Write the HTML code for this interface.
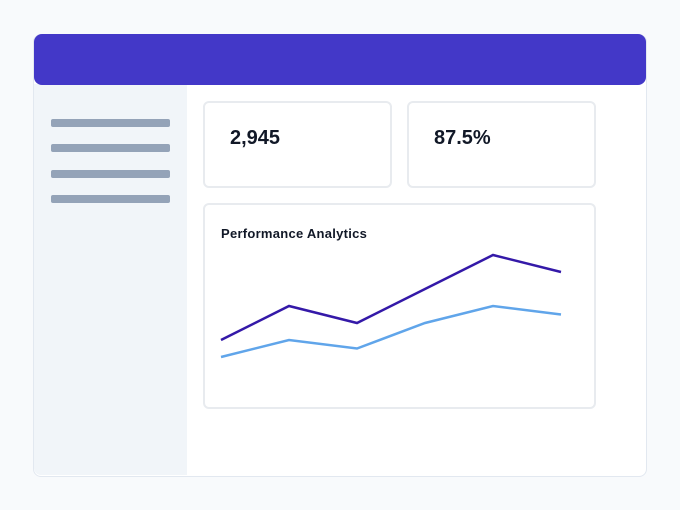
<!DOCTYPE html>
<html lang="en">
<head>
<meta charset="utf-8">
<title>Performance Analytics Dashboard</title>
<style>
  html, body { margin: 0; padding: 0; }
  body { width: 680px; height: 510px; background: #f8fafc; position: relative; overflow: hidden; font-family: "Liberation Sans", sans-serif; }
  div { box-sizing: border-box; position: absolute; }
  #app { left: 33px; top: 34px; width: 614px; height: 443px; background: #fff; border: 1px solid #e2e8f0; border-radius: 8px; }
  #sidebar { left: 34px; top: 84px; width: 153px; height: 391px; background: #f1f5f9; border-bottom-left-radius: 7px; }
  #header { left: 34px; top: 34px; width: 612px; height: 51px; background: #4338c8; border-radius: 8px; }
  .nav { left: 51px; width: 119px; height: 8px; background: #94a3b8; border-radius: 2px; }
  .card { background: #fff; border: 2px solid #e8ebef; border-radius: 6px; }
  .stat { position: absolute; font-weight: 700; font-size: 20px; line-height: 23px; color: #111827; white-space: nowrap; }
  #chart-title { position: absolute; left: 221px; top: 226px; font-weight: 700; font-size: 13px; line-height: 15px; letter-spacing: 0.27px; color: #111827; white-space: nowrap; }
  #chart { position: absolute; left: 0; top: 0; }
</style>
</head>
<body>
  <div id="app"></div>
  <div id="sidebar"></div>
  <div id="header"></div>

  <div class="nav" style="top:119px"></div>
  <div class="nav" style="top:144px"></div>
  <div class="nav" style="top:170px"></div>
  <div class="nav" style="top:195px"></div>

  <div class="card" style="left:203px;top:101px;width:189px;height:87px"></div>
  <div class="card" style="left:407px;top:101px;width:189px;height:87px"></div>
  <div class="card" style="left:203px;top:203px;width:393px;height:206px"></div>

  <span class="stat" style="left:230px;top:127px">2,945</span>
  <span class="stat" style="left:434px;top:127px">87.5%</span>
  <span id="chart-title">Performance Analytics</span>

  <svg id="chart" width="680" height="510" viewBox="0 0 680 510"></svg>

<script>
const categories = [0, 1, 2, 3, 4, 5];
const primarySeries = [30, 50, 40, 60, 80, 70];
const secondarySeries = [20, 30, 25, 40, 50, 45];

const svgNS = 'http://www.w3.org/2000/svg';
const chart = document.getElementById('chart');

function xScale(i) {
  return 221 + i * 68;
}
function yScale(v) {
  return 391 - v * 1.7;
}
function drawSeries(values, color) {
  const line = document.createElementNS(svgNS, 'polyline');
  const pts = values.map(function (v, i) {
    return xScale(categories[i]) + ',' + yScale(v);
  }).join(' ');
  line.setAttribute('points', pts);
  line.setAttribute('fill', 'none');
  line.setAttribute('stroke', color);
  line.setAttribute('stroke-width', '2.5');
  chart.appendChild(line);
  return line;
}

const primaryLine = drawSeries(primarySeries, '#3419a8');



const secondaryLine = drawSeries(secondarySeries, '#60a5ea');


</script>
</body>
</html>
